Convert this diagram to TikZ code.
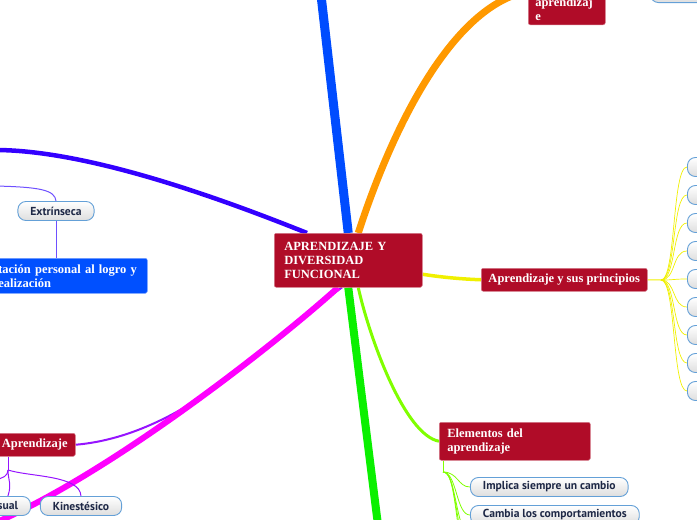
\documentclass[tikz,border=0pt]{standalone}
\usepackage{fontspec}
\setmainfont{Liberation Serif}
\newfontfamily\subfont{PT Sans}
\usetikzlibrary{backgrounds}
\definecolor{carmin}{RGB}{176,12,40}
\definecolor{azulcaja}{RGB}{0,80,255}
\definecolor{azulrama}{RGB}{0,76,255}
\definecolor{indigo}{RGB}{51,0,255}
\definecolor{naranja}{RGB}{255,153,0}
\definecolor{magenta}{RGB}{255,0,255}
\definecolor{violeta}{RGB}{150,20,255}
\definecolor{lila}{RGB}{110,80,255}
\definecolor{verde}{RGB}{10,240,0}
\definecolor{lima}{RGB}{128,255,0}
\definecolor{amarillo}{RGB}{240,240,0}
\definecolor{bordeazul}{RGB}{100,160,215}
\definecolor{tinta}{RGB}{30,40,70}
\tikzset{
  tema/.style={rectangle, fill=carmin, draw=carmin!55!white, line width=0.5pt, rounded corners=2pt, text=white, font=\bfseries\fontsize{12.5}{14}\selectfont, inner sep=0pt},
  bloque/.style={tema, fill=azulcaja, draw=azulcaja!55!white},
  sub/.style={rectangle, rounded corners=8pt, draw=bordeazul, line width=0.9pt, top color=white, bottom color=black!13, text=tinta, font=\subfont\bfseries\fontsize{11.6}{13}\selectfont, minimum height=19pt, inner xsep=12.5pt, inner ysep=0pt},
  rama/.style={line cap=butt}
}
\begin{document}
\begin{tikzpicture}[x=1pt,y=-1pt]
\useasboundingbox (0,0) rectangle (697,520);
\clip (0,0) rectangle (697,520);
\node[tema, anchor=north west, minimum width=148pt, minimum height=54pt, text width=128pt, align=left] (centro) at (274,233) {APRENDIZAJE Y\\DIVERSIDAD\\FUNCIONAL};
\node[tema, anchor=north west, minimum width=166pt, minimum height=23pt] (principios) at (481,268) {Aprendizaje y sus principios};
\node[tema, anchor=north west, minimum width=151pt, minimum height=38pt, text width=135pt, align=left] (elementos) at (439,422) {Elementos del\\aprendizaje};
\node[tema, anchor=south west, minimum width=77pt, inner ysep=4pt, text width=63pt, align=left] (topder) at (528,25) {aprendizaj\\e};
\node[bloque, anchor=north west, minimum width=157pt, minimum height=35pt, text width=141pt, align=left] (orientacion) at (-10,258) {tación personal al logro y\\ealización};
\node[tema, anchor=north west, minimum width=81pt, minimum height=23pt] (estilos) at (-6,433) {Aprendizaje};
\node[sub] (extrinseca) at (56,211) {Extrínseca};
\node[sub] (kinestesico) at (81,506) {Kinestésico};
\node[sub, anchor=east] (visual) at (31,506) {sual};
\node[sub, anchor=west] (implica) at (470,487) {Implica siempre un cambio};
\node[sub, anchor=west] (cambia) at (470,515) {Cambia los comportamientos};
\node[sub, anchor=south west, minimum width=60pt] (topsub) at (650,3) {};
\foreach \i in {1,...,9}
  \node[sub, anchor=west, minimum width=60pt] (p\i) at (687,{139+28*\i}) {};
\coordinate (arribaazul) at (321,-5);
\coordinate (izqindigo) at (-5,150);
\coordinate (izqextr) at (-5,186);
\coordinate (izqmagenta) at (-10,525);
\coordinate (abajoverde) at (378,525);
\coordinate (estj) at (8,470);
\coordinate (izqestilos) at (-5,480);
\coordinate (pj) at (661,280);
\coordinate (elemj) at (443,472);
\coordinate (el3) at (470,543);
\coordinate (el4) at (470,571);
\coordinate (el5) at (470,599);
\begin{scope}[on background layer]
\draw[rama, azulrama, line width=9pt] (centro.north) -- (arribaazul);
\draw[rama, naranja, line width=7pt] ([xshift=10pt]centro.north) .. controls (395,120) and (455,5) .. ([yshift=18pt]topder.west);
\draw[rama, indigo, line width=4.5pt] ([xshift=33pt]centro.north west) .. controls (227,201) and (90,150) .. (izqindigo);
\draw[lila, line width=1pt] (extrinseca.north) .. controls (55,190) and (40,187) .. (izqextr);
\draw[lila, line width=1pt] (extrinseca.south) -- (orientacion.north -| extrinseca.south);
\draw[rama, violeta, line width=2pt] ([xshift=68pt]centro.south west) .. controls (280,330) and (190,435) .. (estilos.east);
\draw[rama, magenta, line width=6pt] ([xshift=64pt]centro.south west) .. controls (280,340) and (110,475) .. (izqmagenta);
\draw[violeta, line width=1pt] ([xshift=14pt]estilos.south west) -- (estj);
\draw[violeta, line width=1pt] (estj) .. controls (8,476) and (3,478) .. (izqestilos);
\draw[violeta, line width=1pt] (estj) .. controls (8,480) and (12,484) .. (visual.north);
\draw[violeta, line width=1pt] (estj) .. controls (30,477) and (80,475) .. (kinestesico.north);
\draw[rama, amarillo, line width=3.5pt] ([yshift=-14pt]centro.east) .. controls (440,277) and (460,279) .. (principios.west);
\draw[amarillo, line width=1pt] (principios.east) -- (pj);
\foreach \i in {1,...,9}
  \draw[amarillo, line width=0.7pt] (pj) .. controls (676,280) and (672,{139+28*\i}) .. (p\i.west);
\draw[rama, verde, line width=8pt] (centro.south) -- (abajoverde);
\draw[rama, lima, line width=3pt] ([xshift=10pt]centro.south) .. controls (370,340) and (405,435) .. (elementos.west);
\draw[lima, line width=1pt] ([xshift=4pt]elementos.south west) -- (elemj);
\draw[lima, line width=0.8pt] (elemj) .. controls (458,472) and (458,487) .. (implica.west);
\draw[lima, line width=0.8pt] (elemj) .. controls (457,472) and (456,515) .. (cambia.west);
\foreach \c in {el3,el4,el5}
  \draw[lima, line width=0.8pt] (elemj) .. controls (456,472) and (454,520) .. (\c);
\end{scope}
\end{tikzpicture}
\end{document}
